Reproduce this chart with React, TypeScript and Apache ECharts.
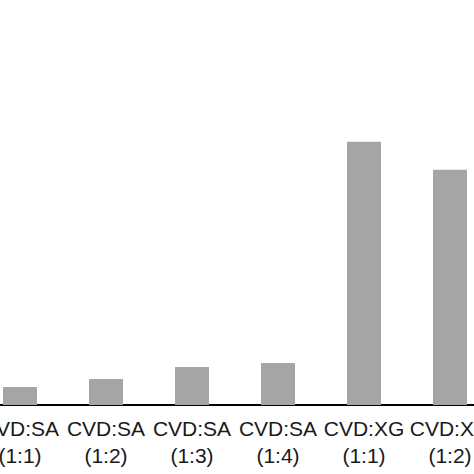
import React, { useEffect, useRef } from 'react';
import * as echarts from 'echarts';

// Groups (line 1 = blend, line 2 = ratio)
const blends = ['CVD:SA', 'CVD:SA', 'CVD:SA', 'CVD:SA', 'CVD:XG', 'CVD:XG'];
const ratios = ['(1:1)', '(1:2)', '(1:3)', '(1:4)', '(1:1)', '(1:2)'];
// Bar values (y axis is cropped out of view)
const values = [4.5, 6.5, 9.5, 10.5, 65.8, 58.8];
const yMax = 100;

const App: React.FC = () => {
  const chartRef = useRef<HTMLDivElement>(null);

  useEffect(() => {
    if (!chartRef.current) return;
    const chart = echarts.init(chartRef.current, undefined, { renderer: 'svg' });

    const option: echarts.EChartsOption = {
      animation: false,
      backgroundColor: '#ffffff',
      grid: { left: 0, width: 516, top: 5, bottom: 69 },
      xAxis: {
        type: 'category',
        data: blends.map((b, i) => `${b}\n${ratios[i]}`),
        boundaryGap: true,
        axisLine: { lineStyle: { color: '#000', width: 2 } },
        axisTick: { alignWithLabel: true, length: 6, lineStyle: { color: '#000', width: 2 } },
        axisLabel: {
          interval: 0,
          margin: 10,
          color: '#1a1a1a',
          fontFamily: 'Liberation Sans, Arial, sans-serif',
          fontSize: 21,
          lineHeight: 27
        }
      },
      yAxis: {
        type: 'value',
        min: 0,
        max: yMax,
        show: false
      },
      series: [{
        type: 'bar',
        data: values,
        barWidth: 34,
        itemStyle: { color: '#a5a5a5' }
      }]
    };

    chart.setOption(option);
    return () => chart.dispose();
  }, []);

  return (
    <div style={{ position: 'fixed', left: 0, top: 0, width: 474, height: 474, overflow: 'hidden', background: '#fff' }}>
      <div ref={chartRef} style={{ position: 'absolute', left: -23, top: 0, width: 560, height: 474 }} />
    </div>
  );
};

export default App;
